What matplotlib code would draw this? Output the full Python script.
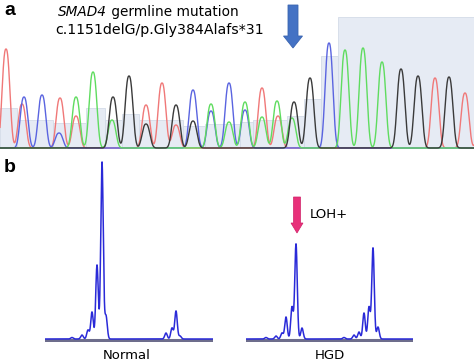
import numpy as np
import matplotlib
matplotlib.use('Agg')
import matplotlib.pyplot as plt
from matplotlib.patches import FancyArrow

# === Data ===
# Sanger trace: peak position (scan units), peak height, base
peak_pos = [6, 24, 22, 42, 60, 59, 76, 76, 93, 113, 112, 129, 146, 146, 162,
            176, 176, 193, 193, 211, 211, 229, 229, 245, 245, 262, 262, 277, 278,
            294, 292, 310, 329, 345, 363, 382, 401, 418, 435, 449, 465, 482]
peak_height = [99, 51, 44, 53, 50, 15, 51, 32, 76, 51, 28, 72, 43, 24, 65,
               43, 23, 58, 27, 44, 37, 65, 26, 46, 38, 60, 31, 47, 32,
               46, 30, 70, 105, 98, 100, 86, 79, 72, 70, 71, 55, 52]
peak_base = ['T', 'C', 'T', 'C', 'T', 'C', 'A', 'T', 'A', 'G', 'A', 'G', 'T', 'G', 'T',
             'G', 'T', 'C', 'G', 'A', 'C', 'C', 'A', 'A', 'C', 'T', 'A', 'A', 'T',
             'G', 'A', 'G', 'C', 'A', 'A', 'A', 'G', 'G', 'T', 'G', 'T', 'T']
base_colors = {'A': '#5fdc5f', 'C': '#5a64e0', 'G': '#3a3a3a', 'T': '#f07878'}

# quality value bars: start, end, value
qv_start = [0, 17, 53, 86, 105, 122, 139, 183, 205, 240, 253, 287, 304, 321, 338]
qv_end = [17, 53, 86, 105, 122, 139, 183, 205, 240, 253, 287, 304, 321, 338, 474]
qv_value = [40, 28, 25, 40, 28, 34, 28, 22, 24, 26, 28, 32, 49, 92, 131]

mutation_pos = 293

# Fragment analysis traces: position, height
normal_pos = [72, 82, 88, 92, 97, 102, 106, 166, 172, 176, 180]
normal_height = [1.5, 4, 9, 27, 74, 177, 23, 6, 11, 28, 3]
hgd_pos = [266, 276, 282, 286, 292, 296, 302, 344, 354, 359, 364, 369, 373, 378]
hgd_height = [1.5, 3, 6, 22, 32, 95, 11, 1.5, 4, 7, 26, 32, 91, 12]
loh_pos = 297

W, H = 474, 363
fig = plt.figure(figsize=(W / 100, H / 100), dpi=100)


def px_axes(x0, y0, x1, y1):
    ax = fig.add_axes([x0 / W, 1 - y1 / H, (x1 - x0) / W, (y1 - y0) / H])
    ax.axis('off')
    return ax


def trace(x, pos, height, sigma, p=2.0):
    y = np.zeros_like(x)
    for c, h in zip(pos, height):
        y += h * np.exp(-0.5 * np.abs((x - c) / sigma) ** p)
    return y


# === Panel a: chromatogram ===
ax_a = px_axes(0, 0, 474, 152)
ax_a.set_xlim(0, 474)
ax_a.set_ylim(-4, 148)
ax_a.bar(qv_start, qv_value, width=np.array(qv_end) - np.array(qv_start), align='edge',
         color='#e6ebf4', edgecolor='#d3dbe8', lw=0.6, zorder=0)

x = np.linspace(0, 474, 3000)
pos = np.array(peak_pos)
hgt = np.array(peak_height)
bases = np.array(peak_base)
for b in ['T', 'C', 'A', 'G']:
    m = bases == b
    ax_a.plot(x, trace(x, pos[m], hgt[m], 3.8, 2.5), color=base_colors[b], lw=1.0, zorder=2)

ax_a.add_patch(FancyArrow(mutation_pos, 143, 0, -43, width=10, head_width=19, head_length=12,
                          length_includes_head=True, facecolor='#4472c4', edgecolor='#3a64b0',
                          lw=0.6, zorder=3, clip_on=False))

fig.text(4 / W, 1 - 15 / H, 'a', fontsize=14, fontweight='bold', family='Liberation Sans',
         va='baseline')
t1 = fig.text(58 / W, 1 - 16 / H, 'SMAD4', fontsize=9.8, style='italic', va='baseline')
ax_a.annotate(' germline mutation', xy=(1, 0), xycoords=t1, fontsize=9.8, va='bottom')
fig.text(55 / W, 1 - 34 / H, 'c.1151delG/p.Gly384Alafs*31', fontsize=10.2, va='baseline')

# === Panel b: fragment analysis ===
fig.text(4 / W, 1 - 172 / H, 'b', fontsize=14, fontweight='bold', family='Liberation Sans',
         va='baseline')

for (x0, x1, p, h, label) in [(45, 213, normal_pos, normal_height, 'Normal'),
                              (246, 413, hgd_pos, hgd_height, 'HGD')]:
    ax = px_axes(x0, 155, x1, 342)
    ax.set_xlim(x0, x1)
    ax.set_ylim(-3, 184)
    xx = np.linspace(x0, x1, 1500)
    ax.axhline(-0.9, color='#6d6d8c', lw=2.2, zorder=1)
    ax.plot(xx, trace(xx, p, h, 1.25), color='#2a2ad8', lw=1.1, zorder=2)
    ax.text(0.5 * (x0 + x1) + (-2 if label == 'Normal' else 0), -10, label, fontsize=9.5,
            ha='center', va='top', clip_on=False)
    if label == 'HGD':
        ax.add_patch(FancyArrow(loh_pos, 142, 0, -36, width=7, head_width=12, head_length=10,
                                length_includes_head=True, facecolor='#e8307a',
                                edgecolor='#d02068', lw=0.5, clip_on=False))
        ax.text(loh_pos + 13, 125, 'LOH+', fontsize=9.5, va='center')

fig.savefig('out.png', dpi=100)
